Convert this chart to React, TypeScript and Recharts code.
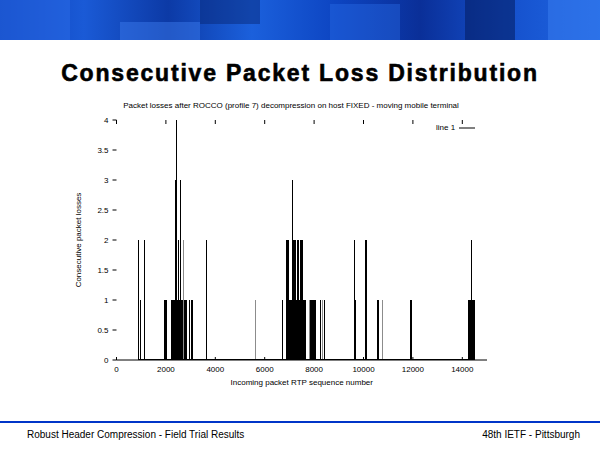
import React from "react";
import {
  Area,
  ComposedChart,
  Legend,
  Line,
  XAxis,
  YAxis,
} from "recharts";

// loss runs read off the gnuplot impulses (x = RTP seq no, y = consecutive losses)
const impulseX = [889, 970, 1132, 2388, 2410, 2425, 2498, 2580, 2951, 3060, 3654, 6710, 7114, 8274, 8436, 9620, 10105, 10590, 11924, 14366];
const impulseV = [2, 1, 2, 3, 3, 4, 2, 3, 1, 1, 2, 1, 3, 1, 1, 2, 2, 1, 1, 2];

// thin impulses that show up grey in the bitmap
const faintX = [2708, 5635, 7801, 8327, 10752];
const faintV = [2, 1, 1, 1, 1];

// dense runs of impulses, drawn as filled bands
const runStart = [1950, 2239, 6900, 6900, 7114, 7332, 7466, 7858, 9620, 14268];
const runEnd = [2010, 2817, 7655, 6980, 7251, 7385, 7518, 8060, 9674, 14487];
const runValue = [1, 1, 1, 2, 2, 2, 2, 1, 1, 1];

const xTicks = [0, 2000, 4000, 6000, 8000, 10000, 12000, 14000];
const yTicks = [0, 0.5, 1, 1.5, 2, 2.5, 3, 3.5, 4];

const FONT = "'Liberation Sans', Arial, sans-serif";

const toImpulses = (xs: number[], vs: number[]) =>
  xs.flatMap((x, i) => [
    { x, y: 0 },
    { x, y: vs[i] },
    { x, y: 0 },
  ]);

const impulseData = toImpulses(impulseX, impulseV);
const faintData = toImpulses(faintX, faintV);
const runData = runStart.map((s, i) => [
  { x: s, y: 0 },
  { x: s, y: runValue[i] },
  { x: runEnd[i], y: runValue[i] },
  { x: runEnd[i], y: 0 },
]);

const BottomTick = (props: any) => {
  const { x, y, payload } = props;
  return (
    <g>
      <line x1={x} x2={x} y1={y - 6} y2={y - 9} stroke="#000" />
      <text x={x} y={y} dy="0.71em" textAnchor="middle" fontSize={8} fill="#000">
        {payload.value}
      </text>
    </g>
  );
};

const TopTick = (props: any) => {
  const { x, y } = props;
  return <line x1={x} x2={x} y1={y} y2={y + 4} stroke="#000" />;
};

const RightTick = (props: any) => {
  const { x, y } = props;
  return <line x1={x - 3} x2={x} y1={y} y2={y} stroke="#000" />;
};

const KeyContent = () => (
  <div style={{ display: "flex", alignItems: "center", fontSize: 8, fontFamily: FONT }}>
    <span>line 1</span>
    <svg width={18} height={6} style={{ marginLeft: 4, display: "block" }}>
      <line x1={0} x2={16} y1={3} y2={3} stroke="#000" />
    </svg>
  </div>
);

const Banner = () => (
  <div
    style={{
      position: "absolute",
      left: 0,
      top: 0,
      width: 600,
      height: 40,
      overflow: "hidden",
      background:
        "linear-gradient(90deg, #0b3fb8 0%, #1a5ad6 14%, #0c3aa6 28%, #1b60dc 42%, #0d45c2 56%, #0a2f98 70%, #1550cc 84%, #1f66e2 100%)",
    }}
  >
    <div style={{ position: "absolute", left: 0, top: 0, width: 70, height: 40, background: "#2a6ae6", opacity: 0.55 }} />
    <div style={{ position: "absolute", left: 120, top: 22, width: 80, height: 18, background: "#3a78ea", opacity: 0.5 }} />
    <div style={{ position: "absolute", left: 200, top: 0, width: 60, height: 24, background: "#06246e", opacity: 0.45 }} />
    <div style={{ position: "absolute", left: 330, top: 4, width: 70, height: 36, background: "#2b6fe8", opacity: 0.4 }} />
    <div style={{ position: "absolute", left: 465, top: 0, width: 50, height: 40, background: "#041c5e", opacity: 0.55 }} />
    <div style={{ position: "absolute", left: 548, top: 0, width: 52, height: 40, background: "#3a7ef0", opacity: 0.5 }} />
  </div>
);

export default function App() {
  return (
    <div
      style={{
        position: "absolute",
        left: 0,
        top: 0,
        width: 600,
        height: 450,
        background: "#fff",
        overflow: "hidden",
        fontFamily: FONT,
      }}
    >
      <style>{`.plot path{shape-rendering:crispEdges}`}</style>
      <Banner />
      <div
        style={{
          position: "absolute",
          left: 0,
          top: 60,
          width: 600,
          textAlign: "center",
          fontSize: 23,
          fontWeight: 700,
          letterSpacing: 1.8,
          WebkitTextStroke: "0.6px #000",
          color: "#000",
        }}
      >
        Consecutive Packet Loss Distribution
      </div>
      <div
        style={{
          position: "absolute",
          left: -9,
          top: 101,
          width: 600,
          textAlign: "center",
          fontSize: 8,
          color: "#000",
        }}
      >
        Packet losses after ROCCO (profile 7) decompression on host FIXED - moving mobile terminal
      </div>

      <div style={{ position: "absolute", left: 0, top: 0 }}>
        <ComposedChart
          className="plot"
          width={600}
          height={450}
          margin={{ top: 118, right: 112, bottom: 60, left: 76.5 }}
          style={{ fontFamily: FONT }}
        >
          <XAxis
            dataKey="x"
            type="number"
            domain={[0, 15000]}
            ticks={xTicks}
            allowDataOverflow
            height={30}
            axisLine={{ stroke: "#000" }}
            tickLine={false}
            tickSize={0}
            tickMargin={6}
            tick={<BottomTick />}
            label={{
              value: "Incoming packet RTP sequence number",
              position: "insideBottom",
              offset: 5,
              fontSize: 8,
              fill: "#000",
            }}
          />
          <XAxis
            xAxisId="top"
            orientation="top"
            dataKey="x"
            type="number"
            domain={[0, 15000]}
            ticks={xTicks}
            allowDataOverflow
            height={2}
            axisLine={false}
            tickLine={false}
            tickSize={0}
            tickMargin={0}
            tick={<TopTick />}
          />
          <YAxis
            type="number"
            domain={[0, 4]}
            ticks={yTicks}
            allowDataOverflow
            width={40}
            axisLine={false}
            tickLine={{ stroke: "#000" }}
            tickSize={4}
            tickMargin={4}
            tick={{ fontSize: 8, fill: "#000" }}
            label={{
              value: "Consecutive packet losses",
              angle: -90,
              position: "insideLeft",
              offset: 2,
              fontSize: 8,
              fill: "#000",
              style: { textAnchor: "middle" },
            }}
          />
          <YAxis
            yAxisId="right"
            orientation="right"
            type="number"
            domain={[0, 4]}
            ticks={yTicks}
            width={1}
            axisLine={false}
            tickLine={false}
            tickSize={0}
            tickMargin={0}
            tick={<RightTick />}
          />
          <Legend
            layout="horizontal"
            verticalAlign="middle"
            align="center"
            content={<KeyContent />}
            wrapperStyle={{ position: "absolute", left: 436, top: 123, width: 50, height: 10 }}
          />
          {runData.map((d, i) => (
            <Area
              key={`run${i}`}
              data={d}
              dataKey="y"
              type="linear"
              stroke="#000"
              strokeWidth={1}
              fill="#000"
              fillOpacity={1}
              dot={false}
              activeDot={false}
              legendType="none"
              isAnimationActive={false}
            />
          ))}
          <Line
            data={faintData}
            dataKey="y"
            type="linear"
            stroke="#8c8c8c"
            strokeWidth={1}
            dot={false}
            activeDot={false}
            legendType="none"
            isAnimationActive={false}
          />
          <Line
            data={impulseData}
            dataKey="y"
            name="line 1"
            type="linear"
            stroke="#000"
            strokeWidth={1.2}
            dot={false}
            activeDot={false}
            isAnimationActive={false}
          />
        </ComposedChart>
      </div>

      <div
        style={{
          position: "absolute",
          left: 0,
          top: 421,
          width: 600,
          height: 2,
          background: "#0035c8",
        }}
      />
      <div style={{ position: "absolute", left: 27, top: 429, fontSize: 10, color: "#000" }}>
        Robust Header Compression - Field Trial Results
      </div>
      <div style={{ position: "absolute", right: 20, top: 429, fontSize: 10, color: "#000" }}>
        48th IETF - Pittsburgh
      </div>
    </div>
  );
}
